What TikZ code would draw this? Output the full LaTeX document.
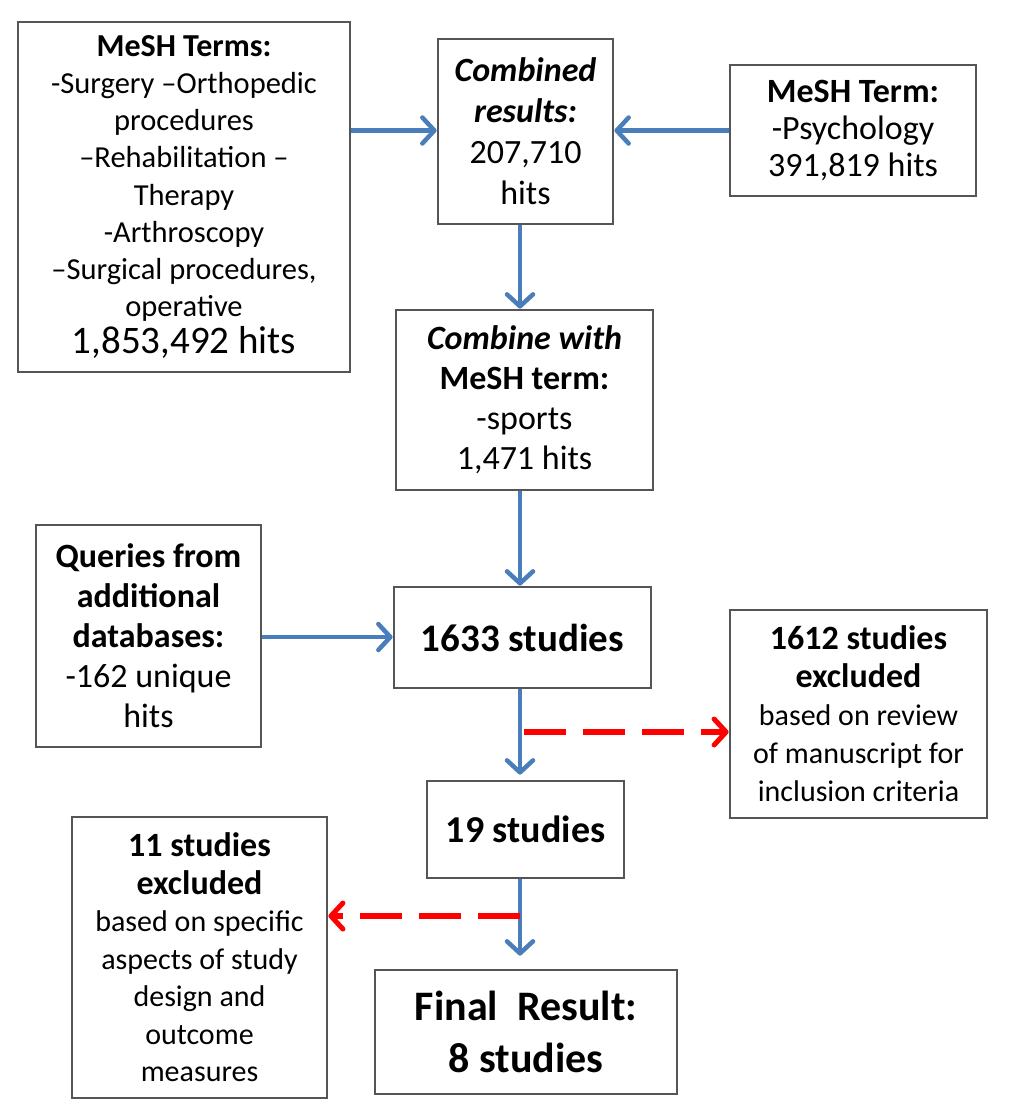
\documentclass[tikz,border=0pt]{standalone}
\usepackage{fontspec}
\setmainfont{Carlito}
\usetikzlibrary{arrows.meta}
\definecolor{flowblue}{HTML}{4A7EBB}
\definecolor{exclred}{HTML}{FF0000}
\definecolor{boxgray}{HTML}{555555}
\newcommand\myfs[2]{\fontsize{#1}{#2}\selectfont}
\tikzset{
  box/.style={draw=boxgray, line width=2.8pt, fill=white, align=center, inner sep=0pt},
  flow/.style={draw=flowblue, line width=4.5pt,
    -{Straight Barb[length=12pt,width=26pt,line width=4.5pt,round]}},
  excl/.style={draw=exclred, line width=6pt, dash pattern=on 42pt off 17pt,
    -{Straight Barb[length=12pt,width=26pt,line width=5pt,round]}},
}
\begin{document}
\begin{tikzpicture}[x=1pt,y=-1pt]
\useasboundingbox[fill=white] (0,0) rectangle (1021,1109);

\node[box, minimum width=332pt, minimum height=350pt, font=\myfs{30.5}{37.2}] (A) at (184,197)
  {{\myfs{32}{37.2}\bfseries MeSH Terms:}\\ -Surgery –Orthopedic\\ procedures\\ –Rehabilitation –\\ Therapy\\ -Arthroscopy\\ –Surgical procedures,\\ operative\\ {\myfs{39}{37.2}1,853,492 hits}};

\node[box, minimum width=175pt, minimum height=185pt, font=\myfs{34}{41}] (B) at (525.5,131.5)
  {{\bfseries\itshape Combined}\\ {\bfseries\itshape results:}\\ 207,710\\ hits};

\node[box, minimum width=246pt, minimum height=131pt, font=\myfs{34}{37}] (C) at (853,130.5)
  {{\bfseries MeSH Term:}\\ -Psychology\\ 391,819 hits};

\node[box, minimum width=257pt, minimum height=180pt, font=\myfs{34}{40}] (D) at (524.5,400)
  {{\bfseries\itshape Combine with}\\ {\bfseries MeSH term:}\\ -sports\\ 1,471 hits};

\node[box, minimum width=225pt, minimum height=222pt, font=\myfs{34}{40}] (E) at (148.5,636)
  {{\bfseries Queries from}\\ {\bfseries additional}\\ {\bfseries databases:}\\ -162 unique\\ hits};

\node[box, minimum width=257pt, minimum height=101pt, font=\myfs{39}{40}\bfseries] (F) at (522.5,637.5)
  {1633 studies};

\node[box, minimum width=257pt, minimum height=208pt, font=\myfs{30}{38}] (G) at (858.5,714)
  {{\myfs{34}{38}\bfseries 1612 studies}\\ {\myfs{34}{38}\bfseries excluded}\\ based on review\\ of manuscript for\\ inclusion criteria};

\node[box, minimum width=197pt, minimum height=97pt, font=\myfs{38}{40}\bfseries] (H) at (525.5,829.5)
  {19 studies};

\node[box, minimum width=255pt, minimum height=281pt, font=\myfs{30}{37.5}] (I) at (199.5,957.5)
  {{\myfs{34}{37.5}\bfseries 11 studies}\\ {\myfs{34}{37.5}\bfseries excluded}\\ based on specific\\ aspects of study\\ design and\\ outcome\\ measures};

\node[box, minimum width=302pt, minimum height=124pt, font=\myfs{42}{52}\bfseries] (J) at (526,1032)
  {Final\ \ Result:\\ 8 studies};

\coordinate (spine) at (520,0);
\coordinate (r1) at (524,732);
\coordinate (r2) at (520,916);

\draw[flow] (A.east |- C.west) -- (B.west |- C.west);
\draw[flow] (C.west) -- (B.east |- C.west);
\draw[flow] (B.south -| spine) -- (D.north -| spine);
\draw[flow] (D.south -| spine) -- (F.north -| spine);
\draw[flow] (E.east |- 0,637) -- (F.west |- 0,637);
\draw[flow] (F.south -| spine) -- ([yshift=5pt]H.north -| spine);
\draw[flow] (H.south -| spine) -- ([yshift=13pt]J.north -| spine);
\draw[excl] (r1) -- (r1 -| G.west);
\draw[excl] (r2) -- (r2 -| I.east);
\end{tikzpicture}
\end{document}
